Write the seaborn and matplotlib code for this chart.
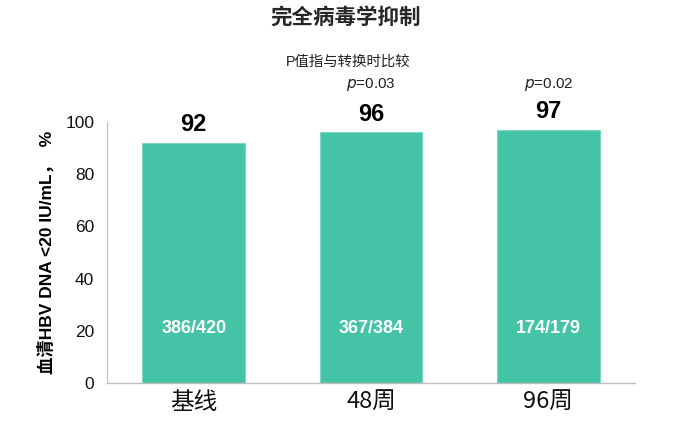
import matplotlib
matplotlib.use("Agg")
import matplotlib.pyplot as plt
import seaborn as sns
import pandas as pd

categories = ["基线", "48周", "96周"]
values = [92, 96, 97]
counts = ["386/420", "367/384", "174/179"]
pvals = [None, "0.03", "0.02"]
yticks = [0, 20, 40, 60, 80, 100]

sns.set_style("white")
plt.rcParams['font.family'] = ['Liberation Sans', 'Noto Sans CJK SC', 'DejaVu Sans']
cjk = ['Noto Sans CJK SC', 'DejaVu Sans']

df = pd.DataFrame({"cat": categories, "val": values})

fig = plt.figure(figsize=(6.89, 4.37), dpi=100)
ax = fig.add_axes([0.155, 0.1236, 0.767, 0.5972])
sns.barplot(data=df, x="cat", y="val", color="#45C3A6", width=0.58,
            edgecolor="#7fd6c1", linewidth=0.8, saturation=1, ax=ax)
ax.set_xlim(-0.49, 2.49)
ax.set_ylim(0, 100)
ax.set_yticks(yticks)
ax.tick_params(axis='y', labelsize=12.5, colors='#111111', length=0, pad=9)
ax.tick_params(axis='x', length=0, pad=6)
for lab in ax.get_xticklabels():
    lab.set_fontfamily(cjk)
    lab.set_fontsize(17)
    lab.set_color('#111111')
for s in ["top", "right"]:
    ax.spines[s].set_visible(False)
ax.spines["left"].set_color("#bfbfbf")
ax.spines["bottom"].set_color("#bfbfbf")
ax.spines["left"].set_linewidth(0.8)
ax.spines["bottom"].set_linewidth(1.0)
ax.set_xlabel("")
ax.set_ylabel("血清HBV DNA <20 IU/mL，  %", fontsize=12.5, fontweight='bold', labelpad=8, color='black')

for i, (v, c) in enumerate(zip(values, counts)):
    ax.text(i, v + 2.5, str(v), ha='center', va='bottom', fontsize=17, fontweight='bold', color='black')
    ax.text(i, 21, c, ha='center', va='center', fontsize=13, color='white', fontweight='bold')
    if pvals[i]:
        ax.text(i, 114.5, "$p$=" + pvals[i], ha='center', va='center', fontsize=11, color='#222222')

fig.text(346/689, 1 - 18/437, "完全病毒学抑制", ha='center', va='center', fontsize=15.5, fontweight='bold')
fig.text(348/689, 1 - 62/437, "P值指与转换时比较", ha='center', va='center', fontsize=10.4, color='#222222')

fig.savefig("out.png", dpi=100)
